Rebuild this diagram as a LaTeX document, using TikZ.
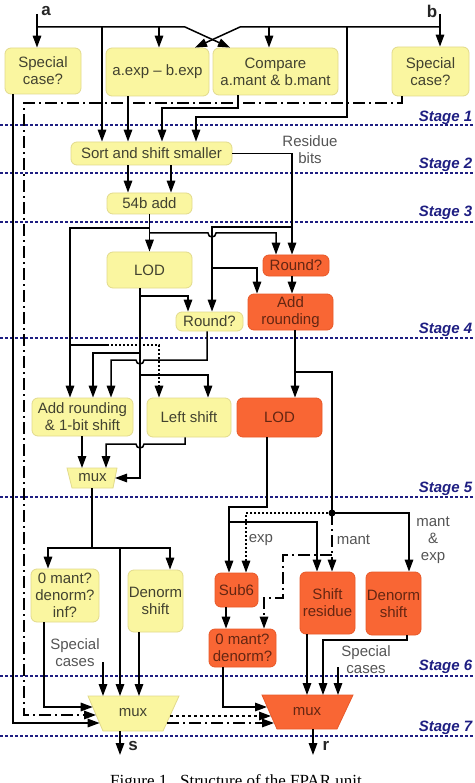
\documentclass[tikz,border=0pt]{standalone}
\usepackage{fontspec}
\setmainfont{Liberation Sans}
\newfontfamily\capfont{Liberation Serif}
\usetikzlibrary{arrows.meta}
\definecolor{yfill}{RGB}{250,246,160}
\definecolor{ydraw}{RGB}{226,218,140}
\definecolor{ofill}{RGB}{249,102,52}
\definecolor{odraw}{RGB}{232,88,40}
\definecolor{ytext}{RGB}{66,66,48}
\definecolor{otext}{RGB}{100,38,18}
\definecolor{lbl}{RGB}{85,85,85}
\definecolor{stg}{RGB}{30,30,130}
\begin{document}
\begin{tikzpicture}[x=1pt,y=-1pt, line width=1.5pt,
  box/.style={rounded corners=6pt, inner sep=0pt, align=center, font=\fontsize{15}{17}\selectfont, line width=0.8pt},
  wh/.style 2 args={minimum width=#1pt, minimum height=#2pt},
  ybox/.style={box, fill=yfill, draw=ydraw, text=ytext},
  obox/.style={box, fill=ofill, draw=odraw, text=otext},
  arr/.style={-{Triangle[length=12pt,width=8.5pt]}},
  ddot/.style={dash pattern=on 12pt off 4pt on 2pt off 4pt},
  dots/.style={dash pattern=on 2pt off 2pt},
  stageline/.style={stg, line width=1.4pt, dash pattern=on 2.5pt off 2.5pt},
  stagelabel/.style={stg, font=\fontsize{15}{17}\selectfont\bfseries\itshape, anchor=east, inner sep=0pt},
  lab/.style={lbl, font=\fontsize{15}{17}\selectfont, align=center, inner sep=0pt},
  io/.style={text=black!85, font=\fontsize{17}{17}\selectfont\bfseries, inner sep=0pt},
  ]
\useasboundingbox (0,0) rectangle (474,783);
\fill[white] (0,0) rectangle (474,783);

% stage lines
\foreach \yy in {125,173,222,338,497,676,736}
  \draw[stageline] (0,\yy) -- (474,\yy);
\node[stagelabel] (st1) at (473,118) {Stage 1};
\node[stagelabel] (st2) at (473,165) {Stage 2};
\node[stagelabel] (st3) at (473,213) {Stage 3};
\node[stagelabel] (st4) at (473,330) {Stage 4};
\node[stagelabel] (st5) at (473,489) {Stage 5};
\node[stagelabel] (st6) at (473,667) {Stage 6};
\node[stagelabel] (st7) at (473,728) {Stage 7};

% nodes (yellow)
\node[ybox, wh={76}{46}] (sc1) at (43,71) {Special\\case?};
\node[ybox, wh={103}{48}] (aexp) at (157.5,72) {a.exp -- b.exp};
\node[ybox, wh={125}{47}] (cmp) at (275.5,71.5) {Compare\\a.mant \& b.mant};
\node[ybox, wh={77}{49}] (sc2) at (430.5,71.5) {Special\\case?};
\node[ybox, wh={161}{23}] (sort) at (151.5,153.5) {Sort and shift smaller};
\node[ybox, wh={85}{21}] (add54) at (149.5,203.5) {54b add};
\node[ybox, wh={85}{36}] (lod1) at (149.5,270) {LOD};
\node[ybox, wh={67}{19}] (rnd1) at (209.5,321.5) {Round?};
\node[ybox, wh={101}{38}] (addr1) at (82.5,417) {Add rounding\\\& 1-bit shift};
\node[ybox, wh={84}{39}] (lsh) at (189,417.5) {Left shift};
\node[ybox, wh={68}{53}] (zm1) at (65,595.5) {0 mant?\\denorm?\\inf?};
\node[ybox, wh={55}{62}] (dn1) at (155.5,601) {Denorm\\shift};
% nodes (orange)
\node[obox, wh={66}{21}] (rnd2) at (296,265.5) {Round?};
\node[obox, wh={85}{36}] (addr2) at (290.5,312) {Add\\rounding};
\node[obox, wh={85}{39}] (lod2) at (279.5,417.5) {LOD};
\node[obox, wh={43}{34}] (sub6) at (236.5,590) {Sub6};
\node[obox, wh={67}{38}] (zm2) at (242.5,648) {0 mant?\\denorm?};
\node[obox, wh={55}{62}] (shr) at (327.5,603) {Shift\\residue};
\node[obox, wh={55}{63}] (dn2) at (393.5,603.5) {Denorm\\shift};

% muxes
\filldraw[fill=yfill, draw=ydraw, line width=0.8pt] (67,468) -- (117,468) -- (113,488) -- (72,488) -- cycle;
\node[text=ytext, font=\fontsize{15}{17}\selectfont, inner sep=0pt] (mux1) at (92.5,478) {mux};
\filldraw[fill=yfill, draw=ydraw, line width=0.8pt] (88,696) -- (179,696) -- (163,731) -- (103,731) -- cycle;
\node[text=ytext, font=\fontsize{15}{17}\selectfont, inner sep=0pt] (mux2) at (133,713) {mux};
\filldraw[fill=ofill, draw=odraw, line width=0.8pt] (262,695) -- (353,695) -- (337,729) -- (277,729) -- cycle;
\node[text=otext, font=\fontsize{15}{17}\selectfont, inner sep=0pt] (mux3) at (307,712) {mux};
\coordinate (m1a) at (82,468);
\coordinate (m1b) at (106,468);
\coordinate (m1r) at (115,478);
\coordinate (m1o) at (92,488);
\coordinate (m2l1) at (92.7,707);
\coordinate (m2l2) at (96,715);
\coordinate (m2l3) at (99.6,723);
\coordinate (m2t1) at (103,696);
\coordinate (m2t2) at (120,696);
\coordinate (m2t3) at (139,696);
\coordinate (m2r1) at (170,716);
\coordinate (m2r2) at (167,723);
\coordinate (m2o) at (120,731);
\coordinate (m3l1) at (267,707);
\coordinate (m3l2) at (271,716);
\coordinate (m3l3) at (274,723);
\coordinate (m3t1) at (307,695);
\coordinate (m3t2) at (323,695);
\coordinate (m3t3) at (338,695);
\coordinate (m3o) at (313,729);

% inputs
\node[io] (ina) at (46,11) {a};
\node[io] (inb) at (432,11) {b};
\coordinate (atop) at (37,14);
\coordinate (btop) at (440,14);
\draw[arr] (atop) -- (sc1.north -| 37,0);
\draw[arr] (37,27) -- (185,27) -- (cmp.north -| 230,0);
\draw[arr] (159,27) -- (aexp.north -| 159,0);
\draw[arr] (102,27) -- (sort.north -| 102,0);
\draw[arr] (btop) -- (sc2.north -| 440,0);
\draw[arr] (440,27) -- (240,27) -- (aexp.north -| 195,0);
\draw[arr] (269,27) -- (cmp.north -| 269,0);
\draw[arr] (347,27) -- (347,117) -- (196,117) -- (sort.north -| 196,0);
\draw[arr] (aexp.south -| 128,0) -- (sort.north -| 128,0);
\draw[arr] (cmp.south -| 238,0) -- (238,108) -- (162,108) -- (sort.north -| 162,0);
\draw[arr, ddot] (sc2.south -| 402,0) -- (402,103) -- (24,103) -- (24,715) -- (m2l2);
\draw[arr] (sc1.south -| 13,0) -- (13,723) -- (m2l3);

% stage 2-3
\draw[arr] (sort.south -| 128,0) -- (add54.north -| 128,0);
\draw[arr] (sort.south -| 171,0) -- (add54.north -| 171,0);
\draw[arr] (sort.east) -- (292,153.5) -- (rnd2.north -| 292,0);
\node[lab] (resid) at (310,150) {Residue\\bits};
\draw[arr] (292,227) -- (212,227) -- (rnd1.north -| 212,0);
\draw[arr] (212,268) -- (257,268) -- (addr2.north -| 257,0);
\draw[arr] (add54.south) -- (lod1.north);
\draw[arr] (149.5,228) -- (70,228) -- (addr1.north -| 70,0);
\draw[arr] (149.5,233) -- (208,233) .. controls (208,238.3) and (216,238.3) .. (216,233) -- (276,233) -- (rnd2.north -| 276,0);

% LOD (yellow) and stage 4
\draw[arr] (lod1.south -| 140,0) -- (140,296) -- (188,296) -- (rnd1.north -| 188,0);
\draw[arr] (lod1.south -| 140,0) -- (140,478) -- (m1r);
\draw[arr] (140,353) -- (93,353) -- (addr1.north -| 93,0);
\draw[arr] (140,375) -- (208,375) -- (lsh.north -| 208,0);
\draw[arr] (rnd1.south -| 207,0) -- (207,360) -- (144,360) .. controls (144,365.3) and (136,365.3) .. (136,360) -- (111,360) -- (addr1.north -| 111,0);
\draw (70,345) -- (107,345);
\draw[arr, dots] (107,345) -- (159,345) -- (lsh.north -| 159,0);
\draw[arr] (rnd2.south -| 292,0) -- (addr2.north -| 292,0);
\draw[arr] (addr2.south -| 295,0) -- (lod2.north -| 295,0);
\draw (295,372) -- (332,372) -- (332,513);

% stage 4-5 yellow
\draw[arr] (addr1.south -| 82,0) -- (m1a);
\draw[arr] (lsh.south -| 185,0) -- (185,444) -- (144,444) .. controls (144,449.3) and (136,449.3) .. (136,444) -- (106,444) -- (m1b);
\draw (m1o) -- (92,548);
\draw[arr] (92,548) -- (48,548) -- (zm1.north -| 48,0);
\draw[arr] (92,548) -- (170,548) -- (dn1.north -| 170,0);
\draw[arr] (120,548) -- (m2t2);
\draw[arr] (zm1.south -| 44,0) -- (44,707) -- (m2l1);
\draw[arr] (dn1.south -| 139,0) -- (m2t3);
\node[lab] (spc1) at (75,652.5) {Special\\cases};
\coordinate (spc1a) at (103,662);
\draw[arr] (spc1a) -- (m2t1);
\coordinate (sout) at (120,755);
\draw[arr] (m2o) -- (sout);
\node[io] (outs) at (133,746) {s};

% stage 5-7 orange
\draw[arr] (lod2.south -| 267,0) -- (267,507) -- (229,507) -- (sub6.north -| 229,0);
\draw[arr] (229,522) -- (317,522) -- (shr.north -| 317,0);
\fill (332,513) circle (3.5pt);
\draw[arr, dots] (332,513) -- (246,513) -- (sub6.north -| 246,0);
\node[lab, anchor=west] (lexp) at (248,540) {exp};
\draw[arr] (332,513) -- (409,513) -- (dn2.north -| 409,0);
\node[lab] (lme) at (433,540) {mant\\\&\\exp};
\draw[arr, ddot] (332,513) -- (shr.north -| 332,0);
\node[lab, anchor=west] (lmant) at (336,540) {mant};
\draw[arr, ddot] (332,555) -- (283,555) -- (283,598) -- (264,598) -- (zm2.north -| 264,0);
\draw[arr] (sub6.south -| 226,0) -- (zm2.north -| 226,0);
\draw[arr] (zm2.south -| 223,0) -- (223,707) -- (m3l1);
\draw[arr] (shr.south -| 307,0) -- (m3t1);
\draw[arr] (dn2.south -| 407,0) -- (407,640) -- (323,640) -- (m3t2);
\node[lab] (spc2) at (366,660) {Special\\cases};
\coordinate (spc2a) at (338,667);
\draw[arr] (spc2a) -- (m3t3);
\draw[arr, dashed] (m2r1) -- (m3l2);
\draw[arr, ddot] (m2r2) -- (m3l3);
\coordinate (rout) at (313,755);
\draw[arr] (m3o) -- (rout);
\node[io] (outr) at (326,746) {r};

% caption (cut by the page edge, as in the reference)
\node[font=\capfont\fontsize{17}{17}\selectfont, anchor=base, inner sep=0pt] (cap) at (236,786) {Figure 1.~~Structure of the FPAR unit};
\end{tikzpicture}
\end{document}
